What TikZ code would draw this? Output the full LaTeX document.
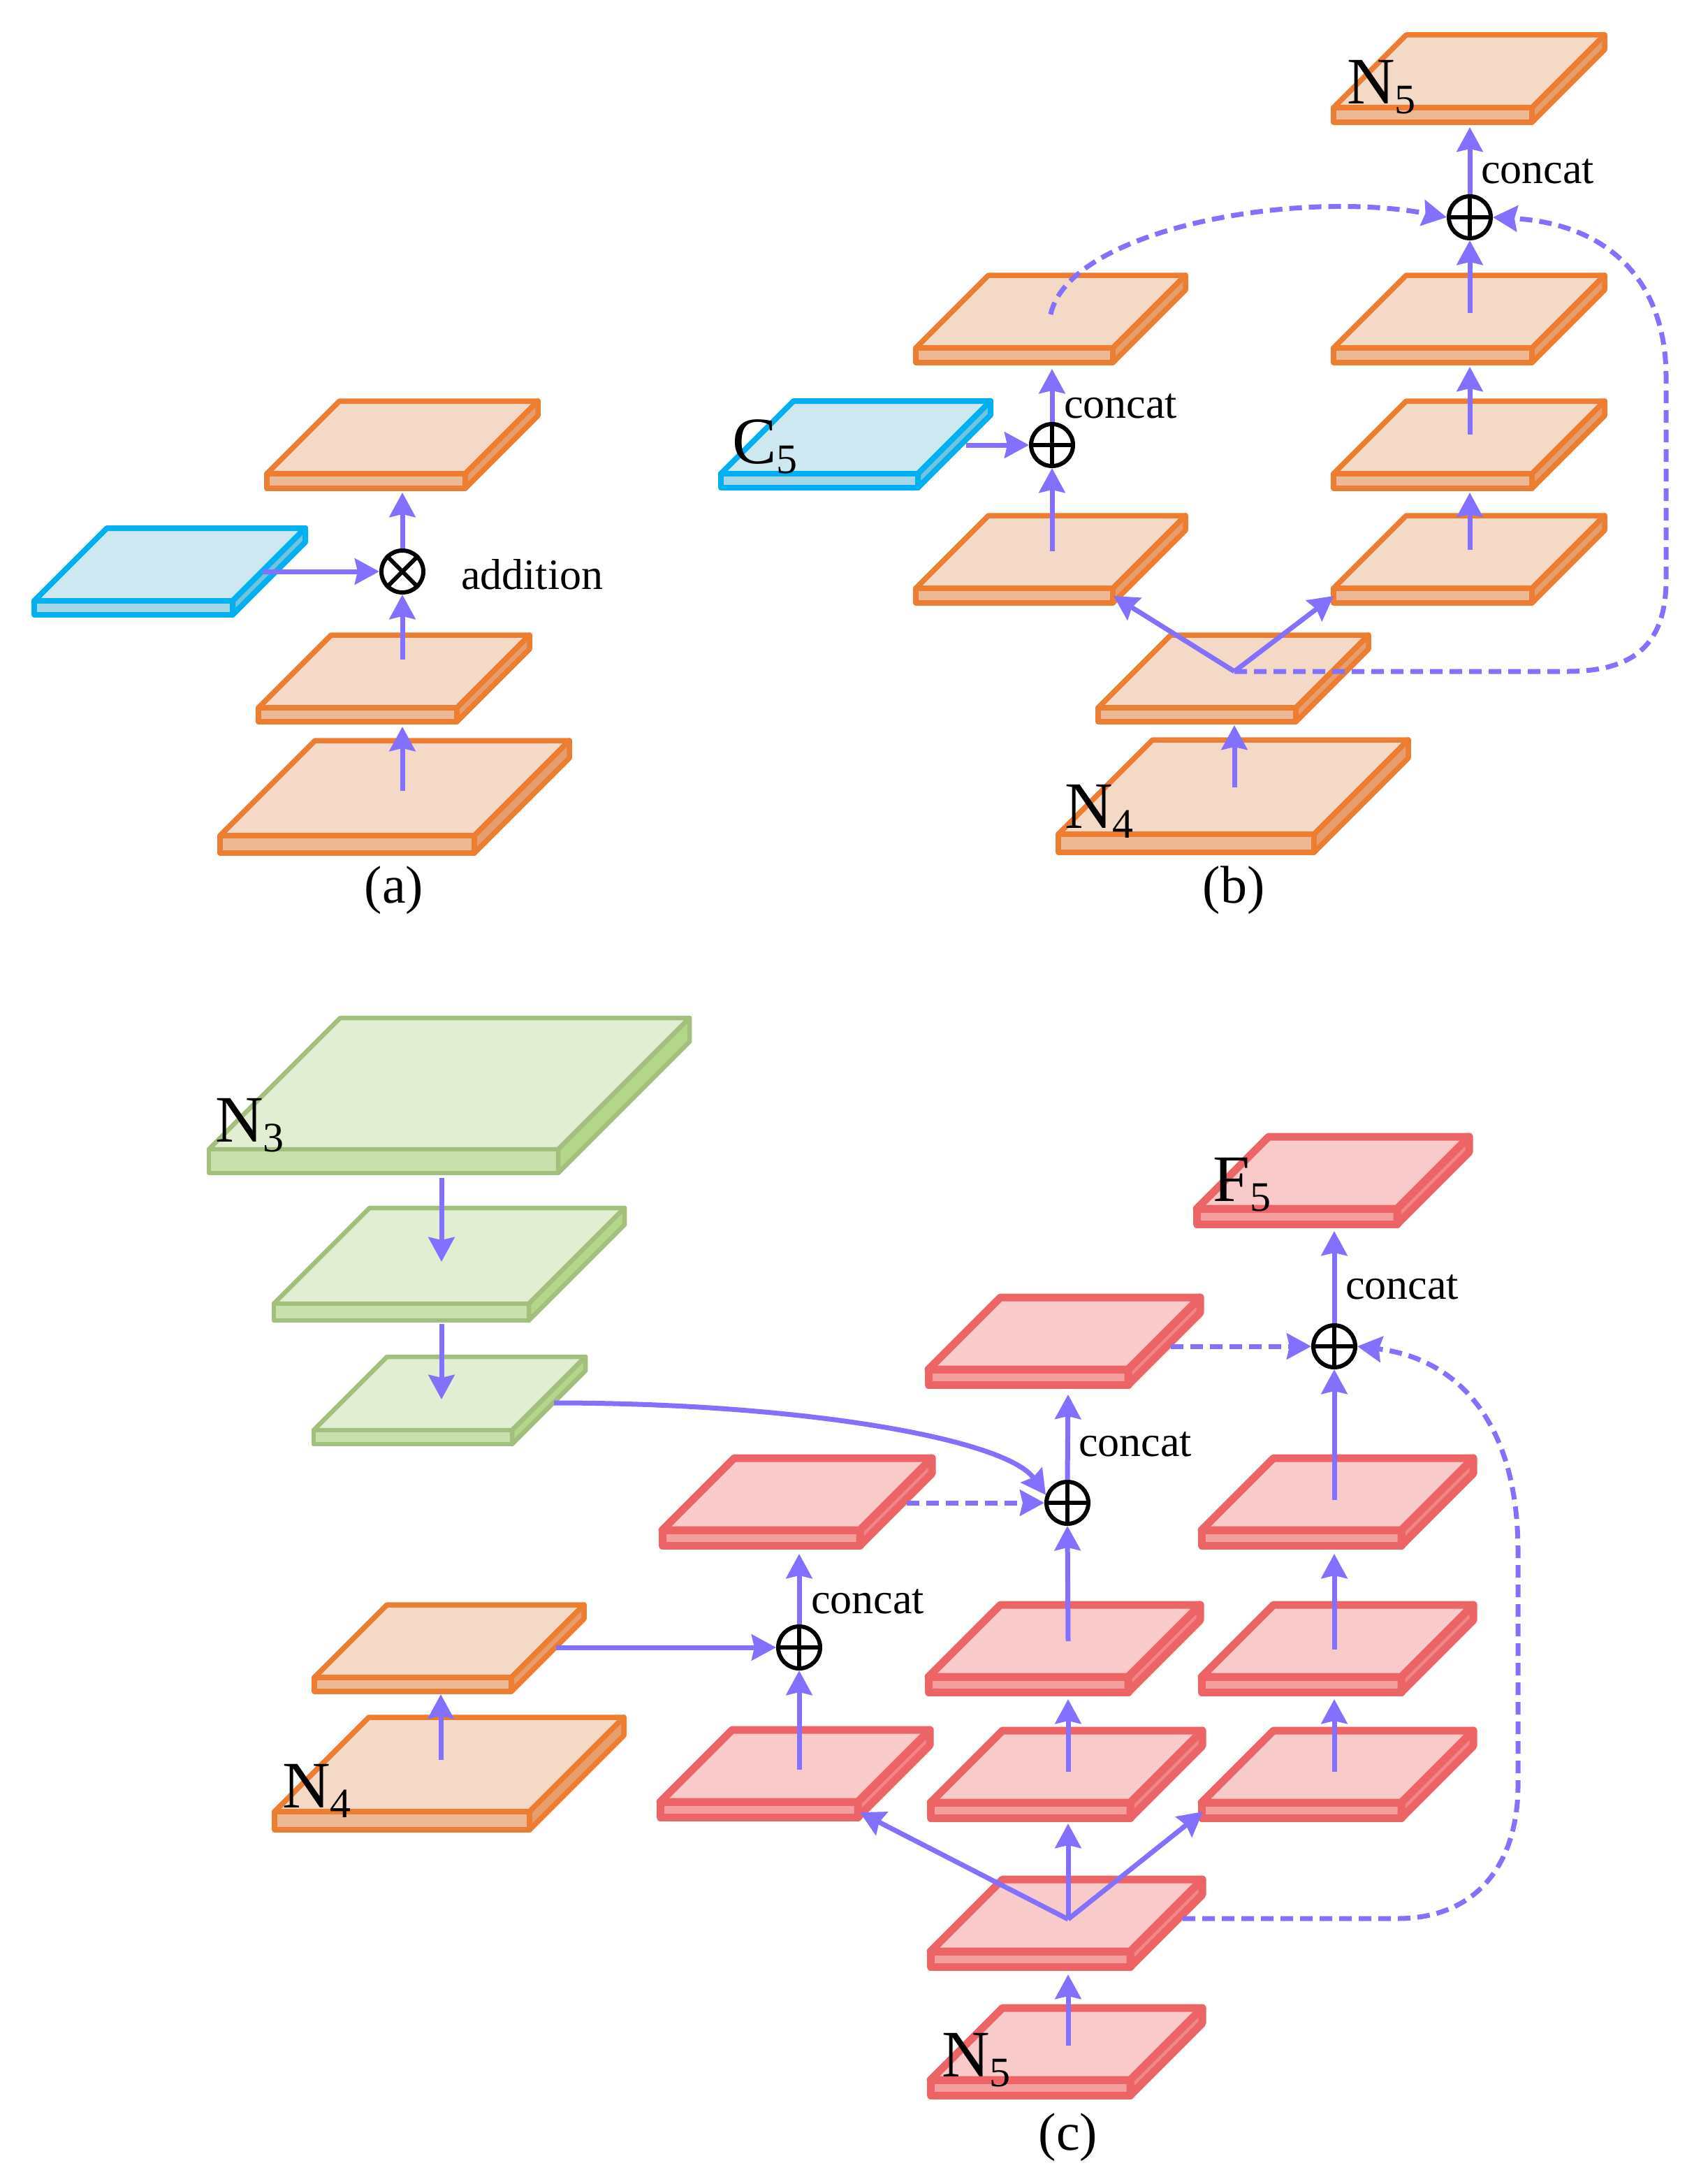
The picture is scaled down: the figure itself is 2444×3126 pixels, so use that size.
\documentclass[tikz,border=0pt]{standalone}
\usepackage{fontspec}
\setmainfont{Liberation Serif}
\usetikzlibrary{arrows.meta}
\definecolor{orS}{HTML}{ED7D31}
\definecolor{orT}{HTML}{F5D9C7}
\definecolor{orF}{HTML}{EDB995}
\definecolor{orD}{HTML}{E69E6E}
\definecolor{blS}{HTML}{00B0F0}
\definecolor{blT}{HTML}{CDE8F1}
\definecolor{blF}{HTML}{A6D7E8}
\definecolor{blD}{HTML}{75C2DD}
\definecolor{grS}{HTML}{A2BF7D}
\definecolor{grT}{HTML}{E2EED2}
\definecolor{grF}{HTML}{C8E0AC}
\definecolor{grD}{HTML}{B3D688}
\definecolor{rdS}{HTML}{EC6466}
\definecolor{rdT}{HTML}{F9CACA}
\definecolor{rdF}{HTML}{F59E9E}
\definecolor{rdD}{HTML}{F08686}
\definecolor{arr}{HTML}{8470FF}
\newcommand{\myplate}[7]{%
  \coordinate (#1-fl) at (#2,#3);
  \coordinate (#1-fr) at ({#2+#4},#3);
  \coordinate (#1-bl) at ({#2+#5},{#3-#5});
  \coordinate (#1-br) at ({#2+#4+#5},{#3-#5});
  \coordinate (#1-ll) at (#2,{#3+#6});
  \coordinate (#1-lr) at ({#2+#4},{#3+#6});
  \coordinate (#1-sr) at ({#2+#4+#5},{#3-#5+#6});
  \filldraw[#7pl, fill=#7T] (#1-fl) -- (#1-fr) -- (#1-br) -- (#1-bl) -- cycle;
  \filldraw[#7pl, fill=#7F] (#1-fl) -- (#1-fr) -- (#1-lr) -- (#1-ll) -- cycle;
  \filldraw[#7pl, fill=#7D] (#1-fr) -- (#1-br) -- (#1-sr) -- (#1-lr) -- cycle;
}
\newcommand{\subl}[1]{\raisebox{-14pt}{\fontsize{60}{60}\selectfont #1}}
\begin{document}
\begin{tikzpicture}[x=1pt,y=-1pt,
  orpl/.style={draw=orS,line width=7.5pt,line join=round},
  blpl/.style={draw=blS,line width=8pt,line join=round},
  grpl/.style={draw=grS,line width=6.5pt,line join=round},
  rdpl/.style={draw=rdS,line width=11pt,line join=round},
  conn/.style={draw=arr,line width=7pt,-{Stealth[length=35pt,width=37pt,inset=4pt]}},
  dconn/.style={conn,dash pattern=on 18pt off 10pt},
  opnode/.style={circle,draw=black,fill=white,line width=6pt,minimum size=60pt,inner sep=0pt},
  crossl/.style={draw=black,line width=6pt},
  txt/.style={anchor=base west,inner sep=0pt,font=\fontsize{62}{70}\selectfont},
  biglab/.style={anchor=base west,inner sep=0pt,font=\fontsize{95}{100}\selectfont},
  captxt/.style={anchor=base,inner sep=0pt,font=\fontsize{76}{80}\selectfont}]
\fill[white] (0,0) rectangle (2444,3126);
\useasboundingbox (0,0) rectangle (2444,3126);

% ================= (a) =================
\myplate{atop}{382}{678}{284}{104}{21}{or}
\myplate{ablue}{49}{860}{284}{104}{20}{bl}
\myplate{amid}{370}{1013}{284}{104}{20}{or}
\myplate{abot}{315}{1196}{364}{136}{25}{or}
\node[opnode] (ox) at (576,818) {};
\draw[crossl] (ox.north west) -- (ox.south east);
\draw[crossl] (ox.north east) -- (ox.south west);
\coordinate (a-s1) at (576,1132); \coordinate (a-t1) at (576,1040);
\coordinate (a-s2) at (576,944);
\coordinate (a-t3) at (576,705);
\coordinate (a-s4) at (376,818);
\draw[conn] (a-s1) -- (a-t1);
\draw[conn] (a-s2) -- (ox.south);
\draw[conn] (ox.north) -- (a-t3);
\draw[conn] (a-s4) -- (ox.west);
\node[txt] (ladd) at (660,843) {addition};
\node[captxt] (capa) at (564,1292) {(a)};

% ================= (b) =================
\myplate{bL2}{1311}{498}{282}{104}{21}{or}
\myplate{bC5}{1032}{678}{282}{104}{20}{bl}
\myplate{bL1}{1311}{842}{282}{104}{21}{or}
\myplate{bN4m}{1572}{1013}{283}{104}{20}{or}
\myplate{bN4}{1515}{1194}{366}{135}{26}{or}
\myplate{bR1}{1909}{842}{284}{104}{21}{or}
\myplate{bR2}{1909}{678}{284}{104}{21}{or}
\myplate{bR3}{1909}{498}{284}{104}{21}{or}
\myplate{bN5}{1909}{154}{284}{104}{21}{or}
\node[opnode] (pb1) at (1506,637) {};
\draw[crossl] (pb1.north) -- (pb1.south);
\draw[crossl] (pb1.west) -- (pb1.east);
\node[opnode] (pb2) at (2104,311) {};
\draw[crossl] (pb2.north) -- (pb2.south);
\draw[crossl] (pb2.west) -- (pb2.east);
\coordinate (b-s1) at (1383,637);
\coordinate (b-s2) at (1506,789);
\coordinate (b-t3) at (1506,528);
\coordinate (b-v) at (1767,961);
\coordinate (b-t4) at (1594,853);
\coordinate (b-t5) at (1909,853);
\coordinate (b-s6) at (1767,1127); \coordinate (b-t6) at (1767,1038);
\coordinate (b-s7) at (2104,787); \coordinate (b-t7) at (2104,705);
\coordinate (b-s8) at (2104,622); \coordinate (b-t8) at (2104,525);
\coordinate (b-s9) at (2104,448);
\coordinate (b-t10) at (2104,182);
\coordinate (b-s11) at (1504,450);
\coordinate (b-k1) at (2243,961);
\coordinate (b-k2) at (2385,830);
\coordinate (b-k3) at (2385,540);
\draw[conn] (b-s1) -- (pb1.west);
\draw[conn] (b-s2) -- (pb1.south);
\draw[conn] (pb1.north) -- (b-t3);
\draw[conn] (b-v) -- (b-t4);
\draw[conn] (b-v) -- (b-t5);
\draw[conn] (b-s6) -- (b-t6);
\draw[conn] (b-s7) -- (b-t7);
\draw[conn] (b-s8) -- (b-t8);
\draw[conn] (b-s9) -- (pb2.south);
\draw[conn] (pb2.north) -- (b-t10);
\draw[dconn] (b-s11) .. controls (1530,330) and (1850,270) .. (pb2.west);
\draw[dconn] (b-v) -- (b-k1) .. controls (2330,961) and (2385,930) .. (b-k2) -- (b-k3) .. controls (2385,400) and (2300,320) .. (pb2.east);
\node[txt] (lcb1) at (1523,598) {concat};
\node[txt] (lcb2) at (2120,262) {concat};
\node[biglab] (lC5) at (1048,663) {C\subl{5}};
\node[biglab] (lN4b) at (1524,1185) {N\subl{4}};
\node[biglab] (lN5b) at (1928,148) {N\subl{5}};
\node[captxt] (capb) at (1766,1292) {(b)};

% ================= (c) =================
\myplate{cN3}{299}{1645}{500}{188}{34}{gr}
\myplate{cG2}{392}{1866}{365}{137}{24}{gr}
\myplate{cG3}{449}{2047}{284}{105}{20}{gr}
\myplate{cM1}{450}{2401}{282}{104}{20}{or}
\myplate{cN4}{393}{2593}{365}{135}{26}{or}
\myplate{cP1t}{948}{2190}{283}{103}{22}{rd}
\myplate{cP1b}{945}{2579}{283}{103}{22}{rd}
\myplate{cP2t}{1329}{1960}{286}{103}{22}{rd}
\myplate{cP2m}{1329}{2400}{286}{103}{22}{rd}
\myplate{cP2b}{1332}{2580}{286}{103}{22}{rd}
\myplate{cN5m}{1332}{2793}{286}{103}{22}{rd}
\myplate{cN5b}{1332}{2977}{286}{103}{22}{rd}
\myplate{cF5}{1713}{1730}{287}{103}{22}{rd}
\myplate{cQ3}{1720}{2190}{286}{103}{22}{rd}
\myplate{cQ2}{1720}{2400}{286}{103}{22}{rd}
\myplate{cQ1}{1720}{2580}{286}{103}{22}{rd}
\node[opnode] (pc1) at (1144,2358) {};
\draw[crossl] (pc1.north) -- (pc1.south);
\draw[crossl] (pc1.west) -- (pc1.east);
\node[opnode] (pc2) at (1528,2151) {};
\draw[crossl] (pc2.north) -- (pc2.south);
\draw[crossl] (pc2.west) -- (pc2.east);
\node[opnode] (pc3) at (1910,1927) {};
\draw[crossl] (pc3.north) -- (pc3.south);
\draw[crossl] (pc3.west) -- (pc3.east);
\coordinate (c-s1) at (632,1686); \coordinate (c-t1) at (632,1806);
\coordinate (c-s2) at (632,1895); \coordinate (c-t2) at (632,2003);
\coordinate (c-s3) at (793,2008);
\coordinate (c-s4) at (631,2519); \coordinate (c-t4) at (631,2425);
\coordinate (c-s5) at (796,2358);
\coordinate (c-s6) at (1144,2533);
\coordinate (c-t7) at (1144,2224);
\coordinate (c-s8) at (1298,2151);
\coordinate (c-s9) at (1529,2349);
\coordinate (c-t10) at (1529,1996);
\coordinate (c-s11) at (1676,1927);
\coordinate (c-s12) at (1910,2147);
\coordinate (c-t13) at (1910,1762);
\coordinate (c-s14) at (1529,2536); \coordinate (c-t14) at (1529,2432);
\coordinate (c-s15) at (1910,2536); \coordinate (c-t15) at (1910,2432);
\coordinate (c-s16) at (1910,2361); \coordinate (c-t16) at (1910,2224);
\coordinate (c-v) at (1529,2747);
\coordinate (c-t17) at (1231,2594);
\coordinate (c-t18) at (1529,2610);
\coordinate (c-t19) at (1722,2593);
\coordinate (c-s20) at (1529,2928); \coordinate (c-t20) at (1529,2826);
\coordinate (c-s21) at (1693,2746);
\coordinate (c-k1) at (2000,2746);
\coordinate (c-k2) at (2173,2556);
\coordinate (c-k3) at (2173,2220);
\draw[conn] (c-s1) -- (c-t1);
\draw[conn] (c-s2) -- (c-t2);
\draw[conn] (c-s3) .. controls (1150,2008) and (1440,2060) .. (pc2.160);
\draw[conn] (c-s4) -- (c-t4);
\draw[conn] (c-s5) -- (pc1.west);
\draw[conn] (c-s6) -- (pc1.south);
\draw[conn] (pc1.north) -- (c-t7);
\draw[dconn] (c-s8) -- (pc2.west);
\draw[conn] (c-s9) -- (pc2.south);
\draw[conn] (pc2.north) -- (c-t10);
\draw[dconn] (c-s11) -- (pc3.west);
\draw[conn] (c-s12) -- (pc3.south);
\draw[conn] (pc3.north) -- (c-t13);
\draw[conn] (c-s14) -- (c-t14);
\draw[conn] (c-s15) -- (c-t15);
\draw[conn] (c-s16) -- (c-t16);
\draw[conn] (c-v) -- (c-t17);
\draw[conn] (c-v) -- (c-t18);
\draw[conn] (c-v) -- (c-t19);
\draw[conn] (c-s20) -- (c-t20);
\draw[dconn] (c-s21) -- (c-k1) .. controls (2120,2746) and (2173,2660) .. (c-k2) -- (c-k3) .. controls (2173,2040) and (2090,1945) .. (pc3.east);
\node[txt] (lcc1) at (1161,2309) {concat};
\node[txt] (lcc2) at (1544,2084) {concat};
\node[txt] (lcc3) at (1926,1859) {concat};
\node[biglab] (lN3) at (308,1634) {N\subl{3}};
\node[biglab] (lN4c) at (404,2587) {N\subl{4}};
\node[biglab] (lN5c) at (1348,2972) {N\subl{5}};
\node[biglab] (lF5) at (1736,1719) {F\subl{5}};
\node[captxt] (capc) at (1529,3077) {(c)};
\end{tikzpicture}
\end{document}
